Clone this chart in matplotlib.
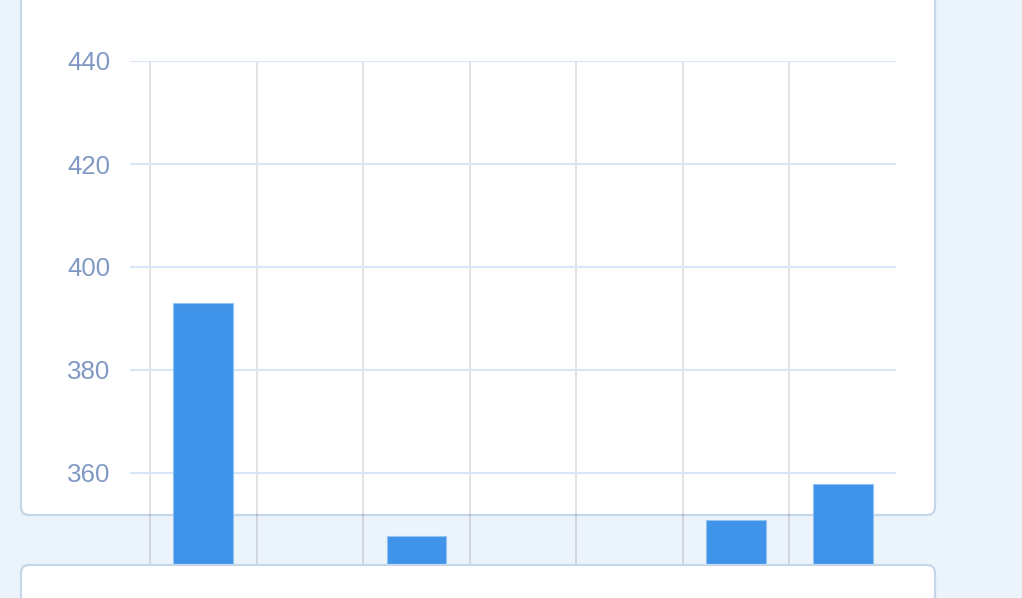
import numpy as np
import matplotlib
matplotlib.use("Agg")
import matplotlib.pyplot as plt
from matplotlib.patches import FancyBboxPatch

# ---- data ----
categories = ["C1", "C2", "C3", "C4", "C5", "C6", "C7"]
values = [393.0, np.nan, 347.8, np.nan, np.nan, 350.9, 357.9]
y_ticks = [360, 380, 400, 420, 440]
y_min, y_max = 340, 440

W, H = 1022, 598
fig = plt.figure(figsize=(W / 100, H / 100), dpi=100)
fig.patch.set_facecolor("#ebf3fb")
plt.rcParams["font.family"] = ["Liberation Sans", "DejaVu Sans"]


def px_box(x0, y0, x1, y1):
    """pixel coords (top-left origin) -> figure fraction box"""
    return x0 / W, 1 - y1 / H, (x1 - x0) / W, (y1 - y0) / H


def card(x0, y0, x1, y1, z):
    p = FancyBboxPatch((x0, H - y1), x1 - x0, y1 - y0,
                       boxstyle="round,pad=0,rounding_size=8",
                       transform=None, facecolor="white",
                       edgecolor="#c6d7ea", linewidth=1.6, zorder=z)
    fig.add_artist(p)


card(21, -30, 935, 515, -1)
card(21, 565, 935, 640, 5)

# axes: left 130px, right 896px, top 61px (=440), bottom 576px (=340)
l, b, w, h = px_box(130, 61, 896, 576)
ax = fig.add_axes([l, b, w, h], zorder=0)
ax.set_facecolor("none")
for s in ax.spines.values():
    s.set_visible(False)

n = len(categories)
x = np.arange(n)
step_px = (896 - 150) / n
left_ext = 20 / step_px
ax.set_xlim(-0.5 - left_ext, n - 0.5)
ax.set_ylim(y_min, y_max)

# vertical category boundaries
for k in range(n):
    ax.axvline(k - 0.5, color="black", alpha=0.115, lw=1.44, zorder=1)

# horizontal grid lines
for t in y_ticks:
    ax.axhline(t, color="#d8e6f8", lw=1.5, zorder=1)

ax.bar(x, values, width=0.56, bottom=0, color="#3f93e8",
       edgecolor="#93c3f3", linewidth=0.8, zorder=3)

ax.set_xticks([])
ax.set_yticks(y_ticks)
ax.set_yticklabels([str(t) for t in y_ticks])
ax.tick_params(axis="y", length=0, pad=14.4, labelsize=18.6,
               labelcolor="#8099c4")

fig.savefig("out.png", dpi=100, facecolor=fig.get_facecolor())
